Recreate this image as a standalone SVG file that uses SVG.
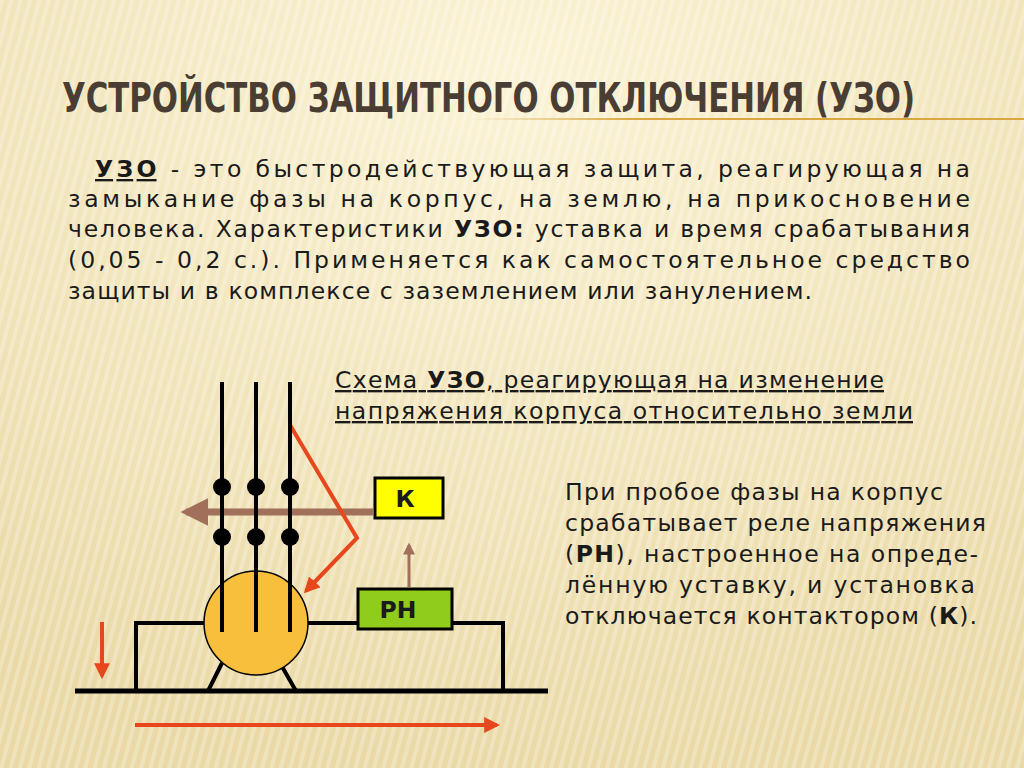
<svg xmlns="http://www.w3.org/2000/svg" width="1024" height="768" viewBox="0 0 1024 768">
<defs>
<radialGradient id="bg" cx="0.5" cy="0.1" r="0.9"><stop offset="0" stop-color="#fbf3d6"/><stop offset="1" stop-color="#ead9a6"/></radialGradient>
<pattern id="st" width="9" height="9" patternUnits="userSpaceOnUse" patternTransform="rotate(15)"><rect width="4" height="9" fill="#ffffff" opacity="0.25"/></pattern>
<linearGradient id="tl" x1="0" x2="1"><stop offset="0" stop-color="#d9a640" stop-opacity="0"/><stop offset="0.3" stop-color="#d9a640"/><stop offset="1" stop-color="#d9a640"/></linearGradient>
<marker id="ar" viewBox="0 0 10 10" refX="8" refY="5" markerWidth="4" markerHeight="4" orient="auto"><path d="M0,0L10,5L0,10z" fill="#e8461c"/></marker>
<marker id="ab" viewBox="0 0 10 10" refX="8" refY="5" markerWidth="4" markerHeight="4" orient="auto"><path d="M0,0L10,5L0,10z" fill="#a0705a"/></marker>
<style>
.t{font-family:"DejaVu Sans",sans-serif;font-size:23.5px;fill:#1a1a1a}
.b{font-weight:bold}
.w{stroke:#000;stroke-width:4;fill:none}
.red{stroke:#e8461c;stroke-width:4;fill:none}
</style>
</defs>
<rect width="1024" height="768" fill="url(#bg)"/>
<rect width="1024" height="768" fill="url(#st)"/>
<g id="title">
<text x="62" y="112" textLength="853" lengthAdjust="spacingAndGlyphs" font-family="'DejaVu Sans Condensed','DejaVu Sans',sans-serif" font-weight="bold" font-size="40" fill="#4a3e34">УСТРОЙСТВО ЗАЩИТНОГО ОТКЛЮЧЕНИЯ (УЗО)</text>
<rect x="470" y="118" width="554" height="2" fill="url(#tl)"/>
</g>
<g id="paragraph" class="t">
<text x="95" y="177" textLength="875" lengthAdjust="spacing"><tspan class="b" text-decoration="underline">УЗО</tspan> - это быстродействующая защита, реагирующая на</text>
<text x="68" y="207" textLength="902" lengthAdjust="spacing">замыкание фазы на корпус, на землю, на прикосновение</text>
<text x="68" y="237" textLength="902" lengthAdjust="spacing">человека. Характеристики <tspan class="b">УЗО:</tspan> уставка и время срабатывания</text>
<text x="68" y="268" textLength="902" lengthAdjust="spacing">(0,05 - 0,2 с.). Применяется как самостоятельное средство</text>
<text x="68" y="299" textLength="744" lengthAdjust="spacing">защиты и в комплексе с заземлением или занулением.</text>
</g>
<g id="caption" class="t" text-decoration="underline">
<text x="335" y="388" textLength="549" lengthAdjust="spacing">Схема <tspan class="b">УЗО</tspan>, реагирующая на изменение</text>
<text x="335" y="419" textLength="578" lengthAdjust="spacing">напряжения корпуса относительно земли </text>
</g>
<g id="description" class="t">
<text x="565" y="500" textLength="378" lengthAdjust="spacing">При пробое фазы на корпус</text>
<text x="565" y="531" textLength="421" lengthAdjust="spacing">срабатывает реле напряжения</text>
<text x="565" y="562" textLength="413" lengthAdjust="spacing">(<tspan class="b">РН</tspan>), настроенное на опреде-</text>
<text x="565" y="593" textLength="410" lengthAdjust="spacing">лённую уставку, и установка</text>
<text x="565" y="624" textLength="412" lengthAdjust="spacing">отключается контактором (<tspan class="b">К</tspan>).</text>
</g>
<g id="connectors">
<line x1="373" y1="512" x2="186" y2="512" stroke="#a0705a" stroke-width="7" marker-end="url(#ab)"/>
<path class="w" d="M205,623H136V691M308,623H357M453,623H503V691"/>
<line x1="75" y1="691" x2="548" y2="691" stroke="#000" stroke-width="5"/>
<path class="w" d="M222,663L208,691M280,663L296,691"/>
<line x1="409" y1="587" x2="409" y2="545" stroke="#a0705a" stroke-width="3" marker-end="url(#ab)"/>
<path class="red" d="M290,425L357,538L306,591" marker-end="url(#ar)"/>
<line class="red" x1="102" y1="622" x2="102" y2="676" marker-end="url(#ar)"/>
<line class="red" x1="135" y1="725" x2="497" y2="725" marker-end="url(#ar)"/>
</g>
<g id="motor"><circle cx="256" cy="623" r="52" fill="#f8bf3c" stroke="#000" stroke-width="1.5"/></g>
<g id="phases">
<path class="w" d="M222,382V632M256,382V632M290,382V632"/>
<g fill="#000"><circle cx="222" cy="487" r="9"/><circle cx="256" cy="487" r="9"/><circle cx="290" cy="487" r="9"/><circle cx="222" cy="537" r="9"/><circle cx="256" cy="537" r="9"/><circle cx="290" cy="537" r="9"/></g>
</g>
<g id="K"><rect x="375" y="478" width="68" height="40" fill="#ffff00" stroke="#000" stroke-width="3"/><text x="405" y="507" text-anchor="middle" class="t b">К</text></g>
<g id="PH"><rect x="358" y="589" width="94" height="40" fill="#8fcc1c" stroke="#000" stroke-width="3"/><text x="398" y="618" text-anchor="middle" class="t b">РН</text></g>
</svg>
